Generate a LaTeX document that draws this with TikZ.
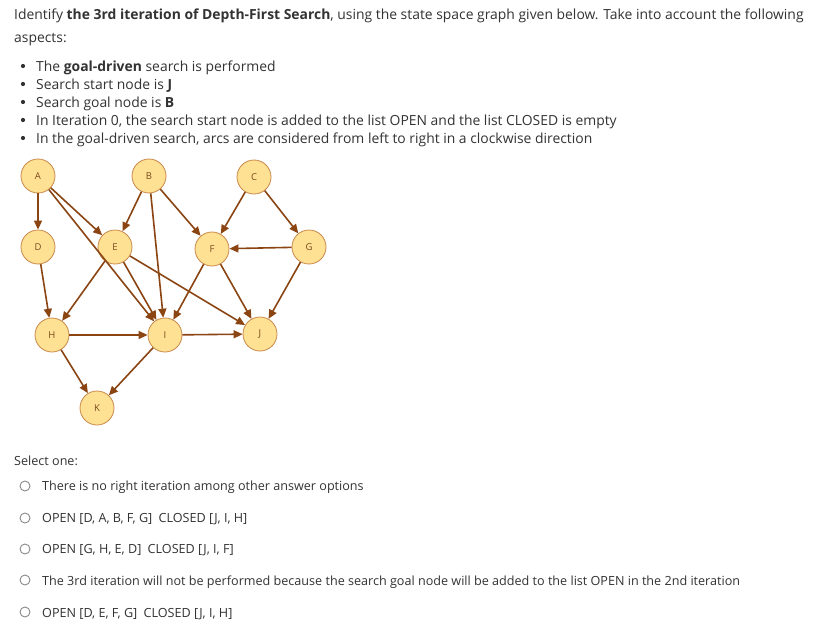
\documentclass[tikz,border=0pt]{standalone}
\usepackage{fontspec}
\setmainfont{Open Sans}
\usetikzlibrary{arrows.meta}
\definecolor{txt}{HTML}{333333}
\definecolor{nodefill}{HTML}{FFE193}
\definecolor{nodeline}{HTML}{C8894A}
\definecolor{edge}{HTML}{8B4513}
\definecolor{lbl}{HTML}{7A4A1E}
\definecolor{radio}{HTML}{8A8A8A}
\tikzset{
  st/.style={circle, draw=nodeline, line width=0.8pt, fill=nodefill, minimum size=34pt, inner sep=0pt, font=\fontsize{9.5}{10}\selectfont, text=lbl},
  arc/.style={draw=edge, line width=1.6pt, -{Triangle[length=9pt,width=8pt]}},
  line/.style={anchor=base west, inner sep=0pt, text=txt, font=\fontsize{13.9}{16}\selectfont},
  opt/.style={anchor=base west, inner sep=0pt, text=txt, font=\fontsize{12.6}{15}\selectfont},
  bul/.style={fill=txt, circle, inner sep=0pt, minimum size=4.2pt},
  rad/.style={circle, draw=radio, line width=0.9pt, inner sep=0pt, minimum size=10pt}
}
\begin{document}
\begin{tikzpicture}[x=1pt,y=-1pt]
\useasboundingbox[fill=white] (0,0) rectangle (814,642);
% question text
\node[line] (q1) at (14,20) {Identify \textbf{the 3rd iteration of Depth-First Search}, using the state space graph given below. Take into account the following};
\node[line] (q2) at (14,43) {aspects:};
\node[bul] (b1) at (23,66) {}; \node[line] (t1) at (36,71) {The \textbf{goal-driven} search is performed};
\node[bul] (b2) at (23,84) {}; \node[line] (t2) at (36,89) {Search start node is \textbf{J}};
\node[bul] (b3) at (23,102) {}; \node[line] (t3) at (36,107) {Search goal node is \textbf{B}};
\node[bul] (b4) at (23,120) {}; \node[line] (t4) at (36,125) {In Iteration 0, the search start node is added to the list OPEN and the list CLOSED is empty};
\node[bul] (b5) at (23,138) {}; \node[line] (t5) at (36,143) {In the goal-driven search, arcs are considered from left to right in a clockwise direction};
% graph
\node[st] (A) at (38,176) {A};
\node[st] (B) at (149,176) {B};
\node[st] (C) at (254,177) {C};
\node[st] (D) at (38,247) {D};
\node[st] (E) at (115,247) {E};
\node[st] (F) at (212,249) {F};
\node[st] (G) at (309,247) {G};
\node[st] (H) at (52,335) {H};
\node[st] (I) at (165,335) {I};
\node[st] (J) at (260,334) {J};
\node[st] (K) at (97,408) {K};
\draw[arc] (A) -- (D);
\draw[arc] (A) -- (E);
\draw[arc] (A) -- (I);
\draw[arc] (B) -- (E);
\draw[arc] (B) -- (F);
\draw[arc] (B) -- (I);
\draw[arc] (C) -- (F);
\draw[arc] (C) -- (G);
\draw[arc] (G) -- (F);
\draw[arc] (D) -- (H);
\draw[arc] (E) -- (H);
\draw[arc] (E) -- (I);
\draw[arc] (E) -- (J);
\draw[arc] (F) -- (I);
\draw[arc] (F) -- (J);
\draw[arc] (G) -- (J);
\draw[arc] (H) -- (I);
\draw[arc] (I) -- (J);
\draw[arc] (H) -- (K);
\draw[arc] (I) -- (K);
% answers
\node[opt] (sel) at (14,465) {Select one:};
\node[rad] (r1) at (25,486) {}; \node[opt] (o1) at (42,490) {There is no right iteration among other answer options};
\node[rad] (r2) at (25,518) {}; \node[opt] (o2) at (42,522) {OPEN [D, A, B, F, G]\enspace CLOSED [J, I, H]};
\node[rad] (r3) at (25,549) {}; \node[opt] (o3) at (42,553) {OPEN [G, H, E, D]\enspace CLOSED [J, I, F]};
\node[rad] (r4) at (25,580) {}; \node[opt] (o4) at (42,585) {The 3rd iteration will not be performed because the search goal node will be added to the list OPEN in the 2nd iteration};
\node[rad] (r5) at (25,612) {}; \node[opt] (o5) at (42,617) {OPEN [D, E, F, G]\enspace CLOSED [J, I, H]};
\end{tikzpicture}
\end{document}
